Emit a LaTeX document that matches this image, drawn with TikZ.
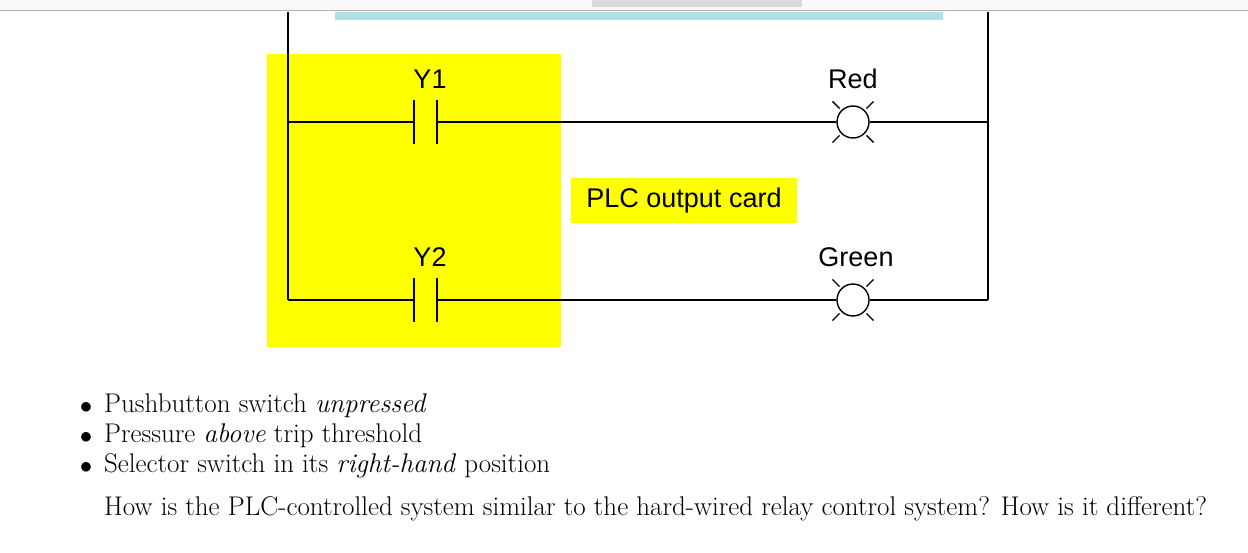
\documentclass[tikz,border=0pt]{standalone}
\usepackage{fontspec}
\newfontfamily\lab{Liberation Sans}
\definecolor{yel}{RGB}{255,255,0}
\definecolor{pow}{RGB}{176,224,230}
\begin{document}
\begin{tikzpicture}[x=1pt,y=-1pt,
  wire/.style={line width=1.4pt},
  lbl/.style={font=\lab\fontsize{27}{30}\selectfont},
  txt/.style={font=\fontsize{27}{30}\selectfont,anchor=west,inner sep=0}]
\useasboundingbox (0,0) rectangle (1248,553);
\fill[gray!5] (0,0) rectangle (1248,11);
\fill[gray!30] (592,0) rectangle (802,7);
\draw[gray!60,line width=1pt] (0,11) -- (1248,11);
\fill[pow] (335,12) rectangle (943,20);
\fill[yel] (267,54) rectangle (561,347);
% rails
\coordinate (lt) at (288,12); \coordinate (lb) at (288,300);
\coordinate (rt) at (988,12); \coordinate (rb) at (988,300);
\draw[wire] (lt) -- (lb); \draw[wire] (rt) -- (rb);
\foreach \y/\n/\c/\cl in {122/1/Red/853, 300/2/Green/856}{
  \coordinate (a\n) at (288,\y);
  \coordinate (r\n) at (988,\y);
  \node[draw,circle,line width=1.4pt,minimum size=32pt,inner sep=0] (L\n) at (853,\y) {};
  \draw[wire] (a\n) -- (414,\y) (437,\y) -- (L\n) (L\n) -- (r\n);
  \draw[wire] (414,\y-22) -- (414,\y+22) (437,\y-22) -- (437,\y+22);
  \foreach \a in {45,135,225,315}
    \draw[wire] (L\n.center) ++(\a:19) -- ++(\a:10);
  \node[lbl] (Y\n) at (430,\y-43) {Y\n};
  \node[lbl] (C\n) at (\cl,\y-43) {\c};
}
\node[lbl,fill=yel,minimum width=226pt,minimum height=45pt,inner sep=0] (card) at (684,201) {PLC output card};
\node[font=\fontsize{27}{30}\selectfont] (b1) at (86,408) {$\bullet$};
\node[font=\fontsize{27}{30}\selectfont] (b2) at (86,438) {$\bullet$};
\node[font=\fontsize{27}{30}\selectfont] (b3) at (86,468) {$\bullet$};
\node[txt] (t1) at (104,406) {Pushbutton switch \textit{unpressed}};
\node[txt] (t2) at (104,436) {Pressure \textit{above} trip threshold};
\node[txt] (t3) at (104,466) {Selector switch in its \textit{right-hand} position};
\node[txt] (q) at (104,509) {How is the PLC-controlled system similar to the hard-wired relay control system? How is it different?};
\end{tikzpicture}
\end{document}
